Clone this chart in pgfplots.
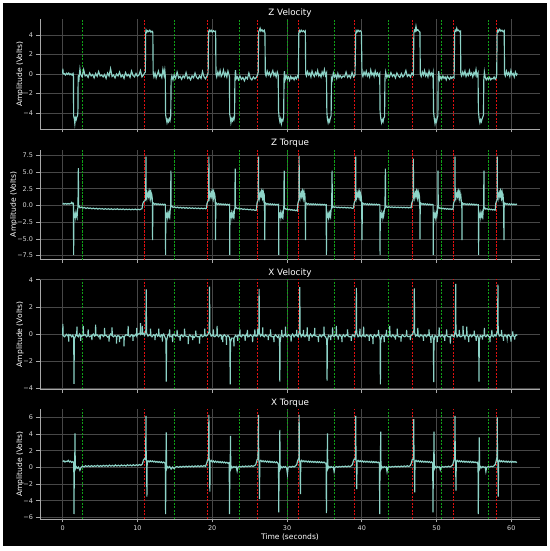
\documentclass[border=0pt]{standalone}
\usepackage{fontspec}
\setmainfont{DejaVu Sans}
\usepackage{pgfplots}
\pgfplotsset{compat=1.18}
\definecolor{sig}{HTML}{8DD3C7}
\definecolor{gridc}{HTML}{474747}
\definecolor{spine}{HTML}{A8A8A8}
\definecolor{evr}{HTML}{E01010}
\definecolor{evg}{HTML}{10A018}
\definecolor{tlab}{HTML}{D8D8D8}
\pgfplotsset{
  panel/.style={
    scale only axis, width=500bp, height=109.5bp, anchor=south west,
    xmin=-3.04, xmax=63.84,
    axis x line*=bottom, axis y line*=left,
    axis line style={-, spine, line width=0.7bp},
    xtick={0,10,20,30,40,50,60},
    tick style={spine, line width=0.6bp}, tick align=outside, major tick length=3.5bp,
    grid=major, grid style={gridc, line width=0.6bp},
    ticklabel style={font=\fontsize{6.5}{7}\selectfont, color=tlab},
    ylabel={Amplitude (Volts)}, ylabel shift=-7bp,
    ylabel style={font=\fontsize{7.6}{8}\selectfont, color=white},
    xlabel style={font=\fontsize{7.6}{8}\selectfont, color=white},
    title style={font=\fontsize{8.8}{10}\selectfont, color=white, at={(0.5,1)}, anchor=base, yshift=-2bp},
    clip=true,
  },
  ev/.style={dash pattern=on 2.2bp off 1.3bp, line width=1bp},
  sigline/.style={sig, line width=1.15bp, mark=none},
}
\newcommand{\evlines}{%
  \pgfplotsinvokeforeach{2.645,14.951,23.645,30.065,36.352,43.575,50.664,56.951}{\addplot[evg,ev] coordinates {(##1,-100) (##1,100)};}%
  \pgfplotsinvokeforeach{10.938,19.365,26.053,31.537,39.027,46.786,52.27,58.022}{\addplot[evr,ev] coordinates {(##1,-100) (##1,100)};}%
}
\begin{document}
\begin{tikzpicture}
\fill[white] (0bp,0bp) rectangle (550bp,551bp);
\fill[black] (3bp,5bp) rectangle (547bp,548bp);

% ---------------- Z Velocity ----------------
\begin{axis}[panel, at={(40bp,422bp)}, ymin=-5.65, ymax=5.6,
  ytick={-4,-2,0,2,4}, yticklabels={−4,−2,0,2,4}, xticklabels={}, title={Z Velocity}]
\evlines
\addplot[sigline] coordinates {
(0,0.05) (0.02,0.55) (0.05,0.0) (0.2,0.05) (0.35,-0.1) (0.5,0.08) (0.65,-0.05) (0.8,0.1) (0.95,-0.08) (1.1,0.02) (1.25,-0.12) (1.38,0.05)
(1.43,-0.1) (1.46,-4.3) (1.55,-4.6) (1.62,-5.1) (1.7,-4.5) (1.8,-4.7) (1.9,-4.4) (1.98,-4.3) (2.03,-3.9) (2.06,-0.5) (2.1,-0.1) (2.15,-0.8) (2.22,-0.1) (2.3,0.5)
(2.4,-0.05) (2.6,-0.3) (2.8,0.45) (3.0,-0.2) (3.2,-0.1) (3.4,-0.35) (3.6,0.1) (3.8,-0.2) (4.0,-0.05) (4.2,-0.4) (4.4,0.05) (4.6,-0.25) (4.8,0.25) (5.0,-0.2) (5.2,-0.1) (5.4,-0.3) (5.6,-0.05) (5.8,-0.45) (6.0,0.1) (6.2,-0.2) (6.4,0.55) (6.6,-0.25) (6.8,-0.1) (7.0,-0.4) (7.2,0.0) (7.4,-0.2) (7.6,0.2) (7.8,-0.3) (8.0,-0.1) (8.2,-0.45) (8.4,0.15) (8.6,-0.2) (8.8,-0.05) (9.0,-0.35) (9.2,0.3) (9.4,-0.15) (9.6,-0.3) (9.8,0.05) (10.0,-0.25) (10.2,-0.1) (10.4,0.35) (10.6,-0.3) (10.8,-0.1) (10.95,0.1)
(11.05,0.2) (11.09,4.2) (11.15,4.5) (11.25,4.3) (11.35,4.45) (11.5,4.35) (11.65,4.5) (11.8,4.3) (11.95,4.4) (12.05,4.3) (12.1,0.1)
(12.2,-0.3) (12.35,0.1) (12.5,-0.4) (12.65,-0.05) (12.8,0.3) (12.95,-0.2) (13.1,-0.05) (13.25,-0.35) (13.4,0.5) (13.55,-0.1) (13.65,0.4)
(13.72,-0.2) (13.76,-4.2) (13.85,-4.6) (13.95,-5.0) (14.05,-4.7) (14.15,-4.9) (14.25,-4.6) (14.35,-4.8) (14.45,-4.3) (14.5,-0.6)
(14.6,-0.2) (14.75,-0.6) (14.9,-0.1) (15.1,-0.45) (15.3,0.2) (15.5,-0.4) (15.7,-0.25) (15.9,-0.55) (16.1,-0.2) (16.3,-0.4) (16.5,0.15) (16.7,-0.45) (16.9,-0.3) (17.1,-0.6) (17.3,-0.2) (17.5,-0.4) (17.7,0.1) (17.9,-0.35) (18.1,-0.5) (18.3,-0.2) (18.5,-0.45) (18.7,0.25) (18.9,-0.3) (19.1,-0.5) (19.3,-0.2)
(19.45,0.1) (19.5,4.3) (19.6,4.5) (19.7,4.35) (19.85,4.5) (20.0,4.3) (20.15,4.45) (20.3,4.35) (20.45,4.4) (20.5,0.0)
(20.6,-0.3) (20.75,0.2) (20.9,-0.15) (21.05,0.35) (21.2,-0.25) (21.35,-0.05) (21.5,0.4) (21.65,-0.2) (21.8,0.1) (21.95,-0.3) (22.1,0.3) (22.25,-0.1)
(22.3,-0.3) (22.33,-4.1) (22.42,-4.5) (22.5,-5.0) (22.6,-4.6) (22.7,-4.8) (22.8,-4.5) (22.9,-4.7) (22.98,-4.4) (23.03,-0.7)
(23.1,0.4) (23.2,-0.5) (23.35,-0.3) (23.5,-0.6) (23.7,-0.2) (23.9,-0.55) (24.1,-0.35) (24.3,-0.7) (24.5,-0.3) (24.7,-0.5) (24.9,0.1) (25.1,-0.45) (25.3,-0.6) (25.5,-0.3) (25.7,-0.5) (25.9,-0.35) (26.05,-0.1)
(26.15,0.2) (26.2,4.3) (26.3,4.5) (26.4,4.7) (26.5,4.4) (26.65,4.55) (26.8,4.35) (26.95,4.5) (27.05,4.2) (27.1,0.0)
(27.2,-0.2) (27.35,0.3) (27.5,-0.1) (27.65,0.15) (27.8,-0.25) (27.95,0.05) (28.1,0.35) (28.25,-0.15) (28.4,0.1) (28.55,-0.3) (28.7,0.2) (28.82,-0.1)
(28.87,-3.8) (28.95,-4.5) (29.05,-4.9) (29.15,-4.6) (29.25,-5.1) (29.35,-4.7) (29.45,-4.8) (29.55,-4.4) (29.6,-0.5)
(29.65,0.3) (29.75,-0.6) (29.9,-0.2) (30.05,-0.5) (30.2,-0.3) (30.35,-0.65) (30.5,-0.25) (30.65,-0.5) (30.8,-0.35) (30.95,-0.6) (31.1,-0.3) (31.25,-0.5) (31.4,-0.2) (31.52,-0.35)
(31.58,4.2) (31.65,4.45) (31.75,4.3) (31.9,4.5) (32.05,4.35) (32.2,4.45) (32.35,4.3) (32.45,4.4) (32.5,0.0)
(32.6,-0.2) (32.75,0.25) (32.9,-0.1) (33.05,0.1) (33.2,-0.3) (33.35,0.3) (33.5,-0.05) (33.65,-0.25) (33.8,0.15) (33.95,-0.1) (34.1,0.35) (34.25,-0.2) (34.4,0.0) (34.55,-0.3) (34.7,0.2) (34.85,-0.1) (35.0,0.45) (35.15,-0.15) (35.28,0.1)
(35.33,-3.9) (35.4,-4.6) (35.5,-5.0) (35.6,-4.7) (35.7,-4.9) (35.8,-4.5) (35.9,-4.3) (35.95,-0.4)
(36.05,-0.6) (36.2,0.1) (36.35,-0.3) (36.5,-0.1) (36.65,-0.45) (36.8,0.05) (36.95,-0.35) (37.1,-0.15) (37.3,-0.4) (37.5,-0.2) (37.7,-0.3) (37.9,0.2) (38.1,-0.35) (38.3,-0.15) (38.5,-0.4) (38.7,0.15) (38.9,-0.3) (39.1,-0.1)
(39.18,4.1) (39.25,4.45) (39.35,4.3) (39.5,4.5) (39.65,4.35) (39.8,4.45) (39.95,4.3) (40.03,0.0)
(40.15,-0.25) (40.3,0.2) (40.45,-0.1) (40.6,0.3) (40.75,-0.2) (40.9,0.05) (41.05,-0.3) (41.2,0.4) (41.35,-0.1) (41.5,0.1) (41.65,-0.25) (41.8,0.3) (41.95,-0.15) (42.1,0.1) (42.25,-0.2) (42.4,0.05)
(42.45,-3.9) (42.55,-4.6) (42.65,-5.0) (42.75,-4.7) (42.85,-4.9) (42.95,-4.5) (43.05,-4.4) (43.1,-0.5)
(43.2,0.2) (43.35,-0.35) (43.5,-0.1) (43.7,-0.3) (43.9,0.15) (44.1,-0.25) (44.3,-0.05) (44.5,-0.4) (44.7,0.1) (44.9,-0.2) (45.1,-0.35) (45.3,0.05) (45.5,-0.3) (45.7,-0.1) (45.9,0.35) (46.1,-0.25) (46.3,-0.05) (46.5,-0.3) (46.7,0.1) (46.9,-0.1)
(46.97,4.2) (47.05,4.5) (47.15,4.4) (47.25,4.9) (47.35,4.45) (47.5,4.55) (47.65,4.4) (47.78,4.3) (47.83,0.0)
(47.95,-0.25) (48.1,0.2) (48.25,-0.1) (48.4,0.35) (48.55,-0.2) (48.7,0.05) (48.85,-0.3) (49.0,0.3) (49.15,-0.15) (49.3,0.1) (49.45,-0.2) (49.55,0.15)
(49.6,-3.9) (49.7,-4.6) (49.8,-5.1) (49.9,-4.7) (50.0,-4.9) (50.1,-4.5) (50.18,-4.3) (50.22,-0.4)
(50.3,0.3) (50.4,-0.6) (50.55,-0.3) (50.7,-0.5) (50.85,-0.2) (51.0,-0.45) (51.15,-0.3) (51.3,-0.6) (51.45,-0.25) (51.6,-0.4) (51.75,-0.55) (51.9,-0.3) (52.05,-0.45) (52.2,-0.3) (52.35,-0.4)
(52.42,4.3) (52.5,4.5) (52.6,4.4) (52.7,4.7) (52.8,4.45) (52.95,4.5) (53.1,4.35) (53.2,4.4) (53.25,0.0)
(53.35,-0.2) (53.5,0.2) (53.65,-0.1) (53.8,0.3) (53.95,-0.25) (54.1,0.05) (54.25,-0.15) (54.4,0.35) (54.55,-0.1) (54.7,0.1) (54.85,-0.3) (55.0,0.15) (55.15,-0.1) (55.28,0.45) (55.4,-0.2) (55.55,0.1)
(55.6,-3.8) (55.7,-4.6) (55.8,-5.0) (55.9,-4.7) (56.0,-4.9) (56.1,-4.6) (56.2,-4.4) (56.28,-4.2) (56.32,-0.6)
(56.4,0.2) (56.5,-0.3) (56.65,-0.6) (56.8,-0.4) (56.95,-0.55) (57.1,-0.35) (57.25,-0.6) (57.4,-0.45) (57.55,-0.5) (57.7,-0.3) (57.85,-0.55) (57.98,-0.4)
(58.05,0.0) (58.1,4.2) (58.2,4.5) (58.3,4.35) (58.45,4.6) (58.6,4.4) (58.75,4.5) (58.9,4.35) (59.05,4.45) (59.1,0.0)
(59.2,-0.2) (59.35,0.3) (59.5,-0.1) (59.65,0.15) (59.8,-0.25) (59.95,0.35) (60.1,-0.1) (60.25,0.05) (60.4,-0.3) (60.55,0.2) (60.7,-0.1) (60.8,0.05)
};
\end{axis}

% ---------------- Z Torque ----------------
\begin{axis}[panel, at={(40bp,291.8bp)}, ymin=-8.05, ymax=8.35,
  ytick={-7.5,-5,-2.5,0,2.5,5,7.5}, yticklabels={−7.5,−5.0,−2.5,0.0,2.5,5.0,7.5}, xticklabels={}, title={Z Torque}]
\evlines
\addplot[sigline] coordinates {
(0,0.15) (0.1,0.3) (0.25,0.2) (0.4,0.3) (0.55,0.18) (0.7,0.3) (0.85,0.2) (1.0,0.3) (1.1,0.25) (1.2,0.45) (1.3,0.28) (1.38,0.35)
(1.43,0.25) (1.46,-7.4) (1.48,-1.0) (1.53,-1.8) (1.58,-1.2) (1.63,-1.9) (1.68,-1.3) (1.73,-1.7) (1.78,-1.1) (1.83,-1.8) (1.88,-1.3) (1.93,-1.6) (1.98,-0.6) (2.04,-0.3) (2.09,5.6) (2.12,-0.2)
(2.2,-0.1) (2.3,-0.35) (2.5,-0.25) (2.7,-0.4) (2.9,-0.3) (3.1,-0.45) (3.3,-0.35) (3.5,-0.45) (3.7,-0.38) (3.9,-0.5) (4.1,-0.4) (4.3,-0.52) (4.5,-0.42) (4.7,-0.55) (4.9,-0.45) (5.1,-0.55) (5.3,-0.47) (5.5,-0.58) (5.7,-0.48) (5.9,-0.58) (6.1,-0.5) (6.3,-0.6) (6.5,-0.5) (6.7,-0.62) (6.9,-0.52) (7.1,-0.6) (7.3,-0.5) (7.5,-0.62) (7.7,-0.54) (7.9,-0.62) (8.1,-0.52) (8.3,-0.64) (8.5,-0.55) (8.7,-0.63) (8.9,-0.55) (9.1,-0.65) (9.3,-0.56) (9.5,-0.64) (9.7,-0.55) (9.9,-0.65) (10.1,-0.57) (10.3,-0.65) (10.45,-0.55)
(10.6,-0.5) (10.72,0.3) (10.85,0.6) (11.0,0.7) (11.1,0.9) (11.13,7.3) (11.16,1.2) (11.21,1.8) (11.26,1.3) (11.31,1.9) (11.36,1.2) (11.41,1.7) (11.46,1.4) (11.51,1.8) (11.56,1.2) (11.61,1.8) (11.66,1.3) (11.71,1.7) (11.76,1.2) (11.81,1.8) (11.86,1.4) (11.91,1.6) (11.96,1.3) (11.99,0.4) (12.02,-5.2) (12.05,0.2)
(12.15,0.35) (12.3,0.15) (12.45,0.28) (12.6,0.12) (12.75,0.25) (12.9,0.1) (13.05,0.22) (13.2,0.1) (13.35,0.2) (13.5,0.08) (13.62,0.18)
(13.73,0.15) (13.76,-7.4) (13.78,-1.0) (13.83,-1.8) (13.88,-1.2) (13.93,-1.9) (13.98,-1.3) (14.03,-1.7) (14.08,-1.1) (14.13,-1.8) (14.18,-1.3) (14.23,-1.6) (14.28,-1.2) (14.33,-1.5) (14.38,-0.6) (14.43,-0.3) (14.47,5.2) (14.5,-0.2)
(14.6,-0.1) (14.75,-0.3) (14.95,-0.2) (15.15,-0.35) (15.35,-0.25) (15.55,-0.38) (15.75,-0.28) (15.95,-0.4) (16.15,-0.3) (16.35,-0.42) (16.55,-0.32) (16.75,-0.44) (16.95,-0.34) (17.15,-0.45) (17.35,-0.36) (17.55,-0.46) (17.75,-0.38) (17.95,-0.48) (18.15,-0.38) (18.35,-0.5) (18.55,-0.4) (18.75,-0.5) (18.95,-0.42) (19.1,-0.5)
(19.2,-0.45) (19.3,0.3) (19.4,0.6) (19.48,0.7) (19.52,0.9) (19.55,7.3) (19.58,1.2) (19.63,1.8) (19.68,1.3) (19.73,1.9) (19.78,1.2) (19.83,1.7) (19.88,1.4) (19.93,1.8) (19.98,1.2) (20.03,1.8) (20.08,1.3) (20.13,1.7) (20.18,1.2) (20.23,1.8) (20.28,1.4) (20.33,1.6) (20.38,1.3) (20.41,0.4) (20.44,-5.2) (20.47,0.2)
(20.55,0.35) (20.7,0.15) (20.85,0.28) (21.0,0.12) (21.15,0.25) (21.3,0.1) (21.45,0.22) (21.6,0.08) (21.75,0.2) (21.9,0.05) (22.05,0.18) (22.2,0.05)
(22.32,0.15) (22.35,-7.4) (22.37,-1.0) (22.42,-1.8) (22.47,-1.2) (22.52,-1.9) (22.57,-1.3) (22.62,-1.7) (22.67,-1.1) (22.72,-1.8) (22.77,-1.3) (22.82,-1.6) (22.87,-1.2) (22.92,-1.5) (22.97,-0.6) (23.02,-0.4) (23.07,5.5) (23.1,-0.4)
(23.2,-0.3) (23.35,-0.5) (23.5,-0.42) (23.7,-0.55) (23.9,-0.48) (24.1,-0.6) (24.3,-0.52) (24.5,-0.62) (24.7,-0.55) (24.9,-0.66) (25.1,-0.58) (25.3,-0.7) (25.5,-0.62) (25.7,-0.74)
(25.9,-0.7) (25.98,0.3) (26.05,0.6) (26.12,0.7) (26.15,0.9) (26.18,7.3) (26.21,1.2) (26.26,1.8) (26.31,1.3) (26.36,1.9) (26.41,1.2) (26.46,1.7) (26.51,1.4) (26.56,1.8) (26.61,1.2) (26.66,1.8) (26.71,1.3) (26.76,1.7) (26.81,1.2) (26.86,1.8) (26.91,1.4) (26.95,1.5) (26.99,0.4) (27.03,-5.2) (27.06,0.2)
(27.15,0.35) (27.3,0.15) (27.45,0.28) (27.6,0.12) (27.75,0.25) (27.9,0.1) (28.05,0.22) (28.2,0.08) (28.35,0.2) (28.5,0.06) (28.65,0.18) (28.78,0.08)
(28.87,0.15) (28.9,-7.4) (28.92,-1.0) (28.97,-1.8) (29.02,-1.2) (29.07,-1.9) (29.12,-1.3) (29.17,-1.7) (29.22,-1.1) (29.27,-1.8) (29.32,-1.3) (29.37,-1.6) (29.42,-1.2) (29.47,-1.5) (29.52,-0.7) (29.57,-0.5) (29.62,5.2) (29.65,-0.5)
(29.75,-0.45) (29.9,-0.6) (30.05,-0.52) (30.2,-0.65) (30.35,-0.58) (30.5,-0.7) (30.65,-0.62) (30.8,-0.74) (30.95,-0.66) (31.1,-0.78) (31.25,-0.7)
(31.38,-0.8) (31.45,0.3) (31.52,0.6) (31.57,0.7) (31.6,0.9) (31.62,7.4) (31.65,1.2) (31.7,1.8) (31.75,1.3) (31.8,1.9) (31.85,1.2) (31.9,1.7) (31.95,1.4) (32.0,1.8) (32.05,1.2) (32.1,1.8) (32.15,1.3) (32.2,1.7) (32.25,1.2) (32.3,1.8) (32.35,1.4) (32.39,1.5) (32.43,0.4) (32.47,-5.2) (32.5,0.2)
(32.6,0.35) (32.75,0.15) (32.9,0.28) (33.05,0.12) (33.2,0.25) (33.35,0.1) (33.5,0.24) (33.65,0.1) (33.8,0.22) (33.95,0.08) (34.1,0.2) (34.25,0.08) (34.4,0.2) (34.55,0.06) (34.7,0.18) (34.85,0.06) (35.0,0.16) (35.12,0.05)
(35.24,0.1) (35.27,-7.4) (35.29,-1.0) (35.34,-1.8) (35.39,-1.2) (35.44,-1.9) (35.49,-1.3) (35.54,-1.7) (35.59,-1.1) (35.64,-1.8) (35.69,-1.3) (35.74,-1.6) (35.79,-1.2) (35.84,-1.5) (35.9,-0.6) (35.97,-0.3) (36.03,5.2) (36.06,-0.3)
(36.15,-0.15) (36.3,-0.3) (36.5,-0.22) (36.7,-0.33) (36.9,-0.25) (37.1,-0.35) (37.3,-0.27) (37.5,-0.36) (37.7,-0.28) (37.9,-0.38) (38.1,-0.3) (38.3,-0.4) (38.5,-0.32) (38.7,-0.42)
(38.9,-0.4) (38.97,0.3) (39.05,0.6) (39.13,0.7) (39.16,0.9) (39.19,7.3) (39.22,1.2) (39.27,1.8) (39.32,1.3) (39.37,1.9) (39.42,1.2) (39.47,1.7) (39.52,1.4) (39.57,1.8) (39.62,1.2) (39.67,1.8) (39.72,1.3) (39.77,1.7) (39.82,1.2) (39.87,1.6) (39.93,1.3) (39.98,0.4) (40.04,-5.2) (40.07,0.2)
(40.15,0.35) (40.3,0.15) (40.45,0.28) (40.6,0.12) (40.75,0.25) (40.9,0.1) (41.05,0.24) (41.2,0.1) (41.35,0.22) (41.5,0.08) (41.65,0.2) (41.8,0.08) (41.95,0.2) (42.1,0.06) (42.25,0.16)
(42.42,0.1) (42.45,-7.4) (42.47,-1.0) (42.52,-1.8) (42.57,-1.2) (42.62,-1.9) (42.67,-1.3) (42.72,-1.7) (42.77,-1.1) (42.82,-1.8) (42.87,-1.3) (42.92,-1.6) (42.97,-1.2) (43.03,-0.6) (43.1,-0.3) (43.16,5.5) (43.19,-0.3)
(43.3,-0.15) (43.45,-0.28) (43.65,-0.2) (43.85,-0.3) (44.05,-0.22) (44.25,-0.32) (44.45,-0.24) (44.65,-0.33) (44.85,-0.25) (45.05,-0.34) (45.25,-0.26) (45.45,-0.35) (45.65,-0.27) (45.85,-0.36) (46.05,-0.28) (46.25,-0.37) (46.45,-0.3)
(46.6,-0.35) (46.68,0.3) (46.76,0.6) (46.84,0.7) (46.87,0.9) (46.9,7.0) (46.93,1.2) (46.98,1.8) (47.03,1.3) (47.08,1.9) (47.13,1.2) (47.18,1.7) (47.23,1.4) (47.28,1.8) (47.33,1.2) (47.38,1.8) (47.43,1.3) (47.48,1.7) (47.53,1.2) (47.58,1.8) (47.63,1.4) (47.68,1.6) (47.72,1.3) (47.76,0.4) (47.79,-5.1) (47.82,0.2)
(47.9,0.35) (48.05,0.15) (48.2,0.28) (48.35,0.12) (48.5,0.25) (48.65,0.1) (48.8,0.22) (48.95,0.08) (49.1,0.2) (49.25,0.06) (49.4,0.16)
(49.54,0.1) (49.57,-7.4) (49.59,-1.0) (49.64,-1.8) (49.69,-1.2) (49.74,-1.9) (49.79,-1.3) (49.84,-1.7) (49.89,-1.1) (49.94,-1.8) (49.99,-1.3) (50.04,-1.6) (50.09,-1.2) (50.13,-0.6) (50.17,-0.4) (50.2,5.2) (50.23,-0.4)
(50.32,-0.3) (50.45,-0.45) (50.6,-0.38) (50.75,-0.5) (50.9,-0.42) (51.05,-0.54) (51.2,-0.46) (51.35,-0.56) (51.5,-0.48) (51.65,-0.58) (51.8,-0.5) (51.95,-0.6) (52.08,-0.52)
(52.2,-0.6) (52.28,0.3) (52.36,0.6) (52.42,0.7) (52.45,0.9) (52.47,7.3) (52.5,1.2) (52.55,1.8) (52.6,1.3) (52.65,1.9) (52.7,1.2) (52.75,1.7) (52.8,1.4) (52.85,1.8) (52.9,1.2) (52.95,1.8) (53.0,1.3) (53.05,1.7) (53.1,1.2) (53.15,1.8) (53.2,1.4) (53.25,1.5) (53.32,0.5) (53.38,0.3) (53.4,-5.2) (53.43,0.2)
(53.5,0.35) (53.65,0.15) (53.8,0.28) (53.95,0.12) (54.1,0.25) (54.25,0.1) (54.4,0.24) (54.55,0.1) (54.7,0.22) (54.85,0.08) (55.0,0.2) (55.15,0.06) (55.3,0.18) (55.45,0.06)
(55.6,0.1) (55.63,-7.4) (55.65,-1.0) (55.7,-1.8) (55.75,-1.2) (55.8,-1.9) (55.85,-1.3) (55.9,-1.7) (55.95,-1.1) (56.0,-1.8) (56.05,-1.3) (56.1,-1.6) (56.15,-1.2) (56.2,-1.5) (56.25,-0.6) (56.3,-0.4) (56.34,5.2) (56.37,-0.5)
(56.45,-0.35) (56.6,-0.55) (56.75,-0.48) (56.9,-0.6) (57.05,-0.52) (57.2,-0.64) (57.35,-0.56) (57.5,-0.68) (57.65,-0.6) (57.78,-0.7)
(57.85,-0.7) (57.92,0.3) (58.0,0.6) (58.07,0.7) (58.1,0.9) (58.12,7.3) (58.15,1.2) (58.2,1.8) (58.25,1.3) (58.3,1.9) (58.35,1.2) (58.4,1.7) (58.45,1.4) (58.5,1.8) (58.55,1.2) (58.6,1.8) (58.65,1.3) (58.7,1.7) (58.75,1.2) (58.8,1.8) (58.85,1.4) (58.9,1.5) (58.96,0.4) (59.02,-5.2) (59.05,0.2)
(59.15,0.35) (59.3,0.15) (59.45,0.28) (59.6,0.12) (59.75,0.25) (59.9,0.1) (60.05,0.24) (60.2,0.1) (60.35,0.22) (60.5,0.1) (60.65,0.2) (60.75,0.12)
};
\end{axis}

% ---------------- X Velocity ----------------
\begin{axis}[panel, at={(40bp,161.7bp)}, ymin=-4.07, ymax=4.0,
  ytick={-4,-2,0,2,4}, yticklabels={−4,−2,0,2,4}, xticklabels={}, title={X Velocity}]
\evlines
\addplot[sigline] coordinates {
(0.0,-0.1) (0.02,0.75) (0.05,-0.1) (0.25,-0.2) (0.5,-0.02) (0.72,-0.15)
(0.77,-0.1) (0.8,-0.55) (0.83,-0.1) (1.0,-0.05) (1.2,-0.2) (1.35,-0.08)
(1.47,-0.3) (1.51,-3.68) (1.55,-0.4)
(1.75,-0.05) (1.87,-0.1) (1.9,0.55) (1.93,-0.1) (2.1,-0.2) (2.25,0.0) (2.37,-0.1) (2.4,-0.5) (2.43,-0.1) (2.55,-0.15) (2.72,-0.1) (2.75,0.6) (2.78,-0.1) (3.0,-0.05) (3.2,-0.2) (3.37,-0.1) (3.4,0.35) (3.43,-0.1) (3.6,-0.2) (3.87,-0.1) (3.9,-0.45) (3.93,-0.1) (4.1,0.0) (4.25,-0.15) (4.37,-0.1) (4.4,0.7) (4.43,-0.1) (4.6,-0.05) (4.8,-0.2) (4.97,-0.1) (5.0,-0.4) (5.03,-0.1) (5.25,-0.05) (5.45,-0.18) (5.57,-0.1) (5.6,0.45) (5.63,-0.1) (5.8,-0.08) (6.0,-0.22) (6.17,-0.15) (6.2,-0.55) (6.23,-0.15) (6.4,0.0) (6.57,-0.1) (6.6,0.5) (6.63,-0.1) (6.8,-0.2) (7.0,-0.1) (7.17,-0.2) (7.2,-0.7) (7.23,-0.2) (7.4,-0.1) (7.57,-0.2) (7.6,-0.6) (7.63,-0.2) (7.8,-0.3) (8.0,-0.15) (8.17,-0.2) (8.2,-0.9) (8.23,-0.2) (8.45,-0.05) (8.72,-0.1) (8.75,0.6) (8.78,-0.1) (9.0,-0.2) (9.2,-0.05) (9.37,-0.1) (9.4,-0.5) (9.43,-0.1) (9.6,-0.15) (9.8,0.0) (9.87,-0.1) (9.9,0.45) (9.93,-0.1) (10.1,0.0) (10.3,0.05) (10.37,0.0) (10.4,0.8) (10.43,0.0) (10.55,0.0) (10.62,0.0) (10.65,0.6) (10.68,0.0) (10.8,0.05) (10.95,-0.1)
(11.13,0.3) (11.17,3.3) (11.21,0.1)
(11.4,-0.15) (11.6,-0.05) (11.72,-0.1) (11.75,0.4) (11.78,-0.1) (11.95,-0.2) (12.15,-0.05) (12.32,-0.1) (12.35,-0.45) (12.38,-0.1) (12.55,0.0) (12.7,-0.15) (12.82,-0.1) (12.85,0.4) (12.88,-0.1) (13.05,-0.2) (13.2,-0.05) (13.3,-0.1) (13.33,-0.55) (13.36,-0.1) (13.5,0.0) (13.65,-0.2)
(13.81,-0.4) (13.85,-3.5) (13.89,-0.5)
(14.05,-0.1) (14.2,0.0) (14.27,-0.1) (14.3,0.35) (14.33,-0.1) (14.5,-0.2) (14.67,-0.1) (14.7,-0.6) (14.73,-0.1) (14.9,0.0) (15.1,-0.15) (15.27,-0.1) (15.3,0.3) (15.33,-0.1) (15.5,-0.2) (15.67,-0.15) (15.7,-0.5) (15.73,-0.15) (15.9,-0.05) (16.1,-0.2) (16.27,-0.1) (16.3,0.4) (16.33,-0.1) (16.5,-0.15) (16.77,-0.2) (16.8,-0.75) (16.83,-0.2) (17.0,-0.05) (17.2,-0.2) (17.37,-0.15) (17.4,-0.45) (17.43,-0.15) (17.6,-0.25) (17.77,-0.1) (17.8,0.25) (17.83,-0.1) (18.0,-0.2) (18.27,-0.2) (18.3,-0.7) (18.33,-0.2) (18.5,-0.05) (18.7,-0.2) (18.97,-0.1) (19.0,0.4) (19.03,-0.1) (19.2,-0.15) (19.4,-0.05)
(19.6,0.2) (19.64,3.5) (19.68,0.1)
(19.85,-0.15) (20.05,-0.05) (20.12,-0.1) (20.15,0.35) (20.18,-0.1) (20.35,-0.2) (20.6,-0.05) (20.62,-0.05) (20.65,0.6) (20.68,-0.1) (20.85,-0.2) (21.05,-0.05) (21.22,-0.15) (21.25,-0.4) (21.28,-0.15) (21.37,-0.2) (21.4,-0.6) (21.43,-0.2) (21.6,-0.05) (21.87,-0.2) (21.9,-0.8) (21.93,-0.2) (22.1,-0.1) (22.3,-0.25)
(22.36,-0.5) (22.4,-3.7) (22.44,-0.6)
(22.6,-0.3) (22.87,-0.3) (22.9,-0.9) (22.93,-0.3) (23.1,-0.1) (23.3,-0.2) (23.37,-0.15) (23.4,-0.5) (23.43,-0.15) (23.6,-0.05) (23.67,-0.1) (23.7,0.35) (23.73,-0.1) (23.9,-0.2) (24.1,-0.05) (24.37,-0.15) (24.4,-0.5) (24.43,-0.15) (24.6,0.0) (24.67,-0.1) (24.7,0.3) (24.73,-0.1) (24.9,-0.2) (25.1,-0.05) (25.37,-0.2) (25.4,-0.6) (25.43,-0.2) (25.6,-0.05) (25.67,-0.1) (25.7,0.35) (25.73,-0.1) (25.9,-0.15) (26.07,0.0) (26.1,0.4) (26.13,0.0)
(26.23,0.2) (26.27,3.33) (26.31,0.1)
(26.45,-0.15) (26.6,-0.05) (26.72,-0.1) (26.75,0.5) (26.78,-0.1) (26.95,-0.2) (27.15,-0.05) (27.3,-0.15) (27.47,-0.15) (27.5,-0.45) (27.53,-0.15) (27.7,-0.05) (27.77,-0.1) (27.8,0.35) (27.83,-0.1) (28.0,-0.2) (28.22,-0.2) (28.25,-0.6) (28.28,-0.2) (28.45,-0.05) (28.6,-0.15) (28.75,-0.25) (28.9,-0.1)
(29.0,-0.5) (29.04,-3.5) (29.08,-0.6)
(29.2,-0.1) (29.27,-0.1) (29.3,0.3) (29.33,-0.1) (29.5,-0.2) (29.65,-0.05) (29.77,-0.1) (29.8,0.55) (29.83,-0.1) (30.0,-0.2) (30.2,-0.05) (30.4,-0.15) (30.52,-0.15) (30.55,-0.55) (30.58,-0.15) (30.75,0.0) (30.95,-0.2) (31.15,-0.05) (31.27,-0.1) (31.3,0.3) (31.33,-0.1) (31.5,-0.2)
(31.67,0.2) (31.71,3.45) (31.75,0.1)
(31.9,-0.2) (32.05,-0.05) (32.17,-0.1) (32.2,0.3) (32.23,-0.1) (32.4,-0.2) (32.6,-0.05) (32.67,-0.1) (32.7,0.5) (32.73,-0.1) (32.92,-0.15) (32.95,-0.5) (32.98,-0.15) (33.15,0.0) (33.35,-0.2) (33.55,-0.05) (33.67,-0.1) (33.7,0.45) (33.73,-0.1) (33.9,-0.15) (34.17,-0.2) (34.2,-0.6) (34.23,-0.2) (34.4,-0.05) (34.6,-0.2) (34.8,-0.05) (34.92,-0.1) (34.95,0.55) (34.98,-0.1) (35.15,-0.2)
(35.32,-0.4) (35.36,-3.43) (35.4,-0.5)
(35.55,-0.1) (35.75,-0.2) (35.82,-0.15) (35.85,-0.45) (35.88,-0.15) (36.07,-0.1) (36.1,0.5) (36.13,-0.1) (36.3,-0.2) (36.45,-0.05) (36.57,-0.1) (36.6,0.6) (36.63,-0.1) (36.82,-0.2) (36.85,-0.4) (36.88,-0.2) (37.05,-0.05) (37.2,-0.15) (37.32,-0.2) (37.35,-0.6) (37.38,-0.2) (37.55,-0.05) (37.75,-0.2) (37.95,-0.05) (38.07,-0.1) (38.1,0.35) (38.13,-0.1) (38.3,-0.2) (38.57,-0.2) (38.6,-0.5) (38.63,-0.2) (38.8,-0.05) (39.05,-0.2)
(39.24,0.3) (39.28,3.4) (39.32,0.1)
(39.5,-0.2) (39.72,-0.1) (39.75,0.4) (39.78,-0.1) (39.95,-0.2) (40.15,-0.05) (40.22,-0.1) (40.25,0.55) (40.28,-0.1) (40.45,-0.2) (40.65,-0.05) (40.85,-0.15) (40.97,-0.15) (41.0,-0.5) (41.03,-0.15) (41.2,-0.05) (41.35,-0.2) (41.47,-0.2) (41.5,-0.75) (41.53,-0.2) (41.7,-0.05) (41.9,-0.2) (42.1,-0.05) (42.22,-0.1) (42.25,0.3) (42.28,-0.1) (42.4,-0.2)
(42.45,-0.4) (42.49,-3.7) (42.53,-0.5)
(42.7,-0.1) (42.97,-0.2) (43.0,-0.6) (43.03,-0.2) (43.2,-0.05) (43.27,-0.1) (43.3,0.3) (43.33,-0.1) (43.5,-0.2) (43.72,-0.1) (43.75,0.6) (43.78,-0.1) (43.95,-0.2) (44.15,-0.05) (44.35,-0.2) (44.47,-0.15) (44.5,-0.4) (44.53,-0.15) (44.72,-0.1) (44.75,0.4) (44.78,-0.1) (44.95,-0.2) (45.22,-0.2) (45.25,-0.55) (45.28,-0.2) (45.45,-0.05) (45.6,-0.15) (45.75,-0.2) (45.97,-0.1) (46.0,0.3) (46.03,-0.1) (46.2,-0.2) (46.47,-0.15) (46.5,-0.45) (46.53,-0.15) (46.8,0.0)
(46.99,0.3) (47.03,3.36) (47.07,0.1)
(47.2,-0.15) (47.4,-0.05) (47.47,-0.1) (47.5,0.45) (47.53,-0.1) (47.7,-0.2) (47.9,-0.05) (48.1,-0.15) (48.22,-0.15) (48.25,-0.5) (48.28,-0.15) (48.45,-0.05) (48.65,-0.2) (48.85,-0.05) (48.97,-0.1) (49.0,0.35) (49.03,-0.1) (49.22,-0.2) (49.25,-0.65) (49.28,-0.2) (49.45,-0.1)
(49.58,-0.4) (49.62,-3.55) (49.66,-0.5)
(49.8,-0.1) (50.0,-0.2) (50.07,-0.2) (50.1,-0.6) (50.13,-0.2) (50.32,-0.1) (50.35,0.5) (50.38,-0.1) (50.55,-0.2) (50.75,-0.05) (50.95,-0.2) (51.07,-0.15) (51.1,-0.5) (51.13,-0.15) (51.32,-0.1) (51.35,0.35) (51.38,-0.1) (51.55,-0.2) (51.82,-0.2) (51.85,-0.7) (51.88,-0.2) (52.05,-0.05) (52.2,-0.15) (52.35,-0.2)
(52.52,0.3) (52.56,3.7) (52.6,0.1)
(52.75,-0.2) (52.95,-0.05) (53.02,-0.1) (53.05,0.3) (53.08,-0.1) (53.25,-0.2) (53.52,-0.1) (53.55,0.6) (53.58,-0.1) (53.77,-0.15) (53.8,-0.4) (53.83,-0.15) (54.02,-0.1) (54.05,0.55) (54.08,-0.1) (54.27,-0.2) (54.3,-0.6) (54.33,-0.2) (54.5,-0.05) (54.7,-0.2) (54.9,-0.05) (55.02,-0.1) (55.05,0.25) (55.08,-0.1) (55.27,-0.2) (55.3,-0.5) (55.33,-0.2) (55.5,-0.1)
(55.64,-0.4) (55.68,-3.5) (55.72,-0.5)
(55.85,-0.1) (56.05,-0.2) (56.12,-0.15) (56.15,-0.4) (56.18,-0.15) (56.37,-0.1) (56.4,0.45) (56.43,-0.1) (56.6,-0.2) (56.8,-0.05) (57.0,-0.2) (57.12,-0.2) (57.15,-0.6) (57.18,-0.2) (57.37,-0.1) (57.4,0.3) (57.43,-0.1) (57.6,-0.2) (57.8,-0.05) (57.95,-0.15)
(58.17,0.3) (58.21,3.65) (58.25,0.1)
(58.4,-0.15) (58.6,-0.05) (58.67,-0.1) (58.7,0.3) (58.73,-0.1) (58.92,-0.2) (58.95,-0.5) (58.98,-0.2) (59.15,-0.05) (59.35,-0.2) (59.42,-0.15) (59.45,-0.3) (59.48,-0.15) (59.65,-0.05) (59.85,-0.2) (59.92,-0.2) (59.95,-0.55) (59.98,-0.2) (60.17,-0.1) (60.2,0.2) (60.23,-0.1) (60.42,-0.2) (60.45,-0.4) (60.48,-0.2) (60.65,-0.05) (60.8,-0.1)
};
\end{axis}

% ---------------- X Torque ----------------
\begin{axis}[panel, at={(40bp,32bp)}, ymin=-6.2, ymax=6.96,
  ytick={-6,-4,-2,0,2,4,6}, yticklabels={−6,−4,−2,0,2,4,6},
  xticklabels={0,10,20,30,40,50,60}, xlabel={Time (seconds)}, xlabel shift=-4bp, title={X Torque}]
\evlines
\addplot[sigline] coordinates {
(0,0.7) (0.15,0.8) (0.3,0.65) (0.45,0.75) (0.6,0.7) (0.75,0.85) (0.9,0.65) (1.05,0.75) (1.2,0.6) (1.35,0.7) (1.45,0.6)
(1.48,0.3) (1.51,-5.6) (1.55,0.2) (1.6,-0.1) (1.64,4.1) (1.68,-0.2) (1.8,0.1) (1.95,-0.1) (2.1,0.05) (2.3,-0.35) (2.45,0.0)
(2.65,0.15) (2.85,0.05) (3.05,0.2) (3.25,0.1) (3.45,0.2) (3.65,0.08) (3.85,0.22) (4.05,0.1) (4.25,0.2) (4.45,0.12) (4.65,0.25) (4.85,0.1) (5.05,0.22) (5.25,0.12) (5.45,0.25) (5.65,0.14) (5.85,0.25) (6.05,0.12) (6.25,0.28) (6.45,0.15) (6.65,0.26) (6.85,0.14) (7.05,0.3) (7.25,0.16) (7.45,0.27) (7.65,0.15) (7.85,0.3) (8.05,0.18) (8.25,0.28) (8.45,0.16) (8.65,0.32) (8.85,0.2) (9.05,0.3) (9.25,0.18) (9.45,0.33) (9.65,0.2) (9.85,0.32) (10.05,0.22) (10.25,0.35) (10.45,0.25)
(10.65,0.4) (10.8,0.9) (10.95,1.05) (11.1,0.95) (11.13,6.2) (11.17,0.9) (11.22,0.6) (11.26,-3.5) (11.3,0.7) (11.4,0.8)
(11.55,0.65) (11.7,0.8) (11.85,0.68) (12.0,0.78) (12.15,0.65) (12.3,0.75) (12.45,0.62) (12.6,0.72) (12.75,0.6) (12.9,0.7) (13.05,0.58) (13.2,0.68) (13.35,0.55) (13.5,0.65) (13.65,0.55)
(13.72,0.3) (13.76,-5.6) (13.8,0.2) (13.85,4.2) (13.89,-0.2) (14.0,0.1) (14.15,-0.05) (14.3,0.1) (14.5,-0.2) (14.7,0.05) (14.9,-0.15) (15.1,0.05)
(15.3,0.1) (15.5,0.0) (15.7,0.12) (15.9,0.02) (16.1,0.14) (16.3,0.04) (16.5,0.15) (16.7,0.05) (16.9,0.16) (17.1,0.06) (17.3,0.18) (17.5,0.06) (17.7,0.18) (17.9,0.08) (18.1,0.2) (18.3,0.08) (18.5,0.2) (18.7,0.1) (18.9,0.22) (19.1,0.12)
(19.25,0.5) (19.38,0.9) (19.5,0.95) (19.55,6.3) (19.59,0.9) (19.64,0.5) (19.68,-2.9) (19.72,0.7) (19.85,0.85)
(20.0,0.65) (20.15,0.78) (20.3,0.62) (20.45,0.75) (20.6,0.6) (20.75,0.72) (20.9,0.58) (21.05,0.7) (21.2,0.56) (21.35,0.68) (21.5,0.55) (21.65,0.65) (21.8,0.52) (21.95,0.62) (22.1,0.5) (22.22,0.55)
(22.27,0.3) (22.31,-5.6) (22.35,0.2) (22.4,-0.1) (22.44,3.8) (22.48,-0.2) (22.6,0.1) (22.75,-0.05) (22.9,0.1) (23.05,0.0) (23.2,0.1) (23.33,-0.45) (23.45,0.05)
(23.65,0.12) (23.85,0.04) (24.05,0.15) (24.25,0.06) (24.45,0.17) (24.65,0.08) (24.85,0.18) (25.05,0.1) (25.25,0.2) (25.45,0.12) (25.65,0.22) (25.8,0.3)
(25.9,0.6) (26.0,0.95) (26.12,1.0) (26.18,6.3) (26.22,0.9) (26.28,0.5) (26.32,-3.8) (26.36,0.7) (26.5,0.85)
(26.65,0.68) (26.8,0.8) (26.95,0.66) (27.1,0.78) (27.25,0.64) (27.4,0.76) (27.55,0.62) (27.7,0.74) (27.85,0.6) (28.0,0.7) (28.15,0.58) (28.3,0.68) (28.45,0.56) (28.6,0.66) (28.75,0.55)
(28.86,0.3) (28.9,-5.4) (28.94,0.2) (29.0,-0.1) (29.04,4.5) (29.08,-0.2) (29.2,0.1) (29.35,-0.05) (29.5,0.1) (29.65,0.0) (29.8,0.1) (29.95,-0.1) (30.06,-0.8) (30.15,0.0)
(30.35,0.1) (30.55,0.02) (30.75,0.14) (30.95,0.05) (31.15,0.2) (31.3,0.35)
(31.42,0.8) (31.52,1.0) (31.58,0.95) (31.62,6.3) (31.66,0.9) (31.74,0.5) (31.8,-3.2) (31.84,0.7) (31.95,0.85)
(32.1,0.68) (32.25,0.8) (32.4,0.66) (32.55,0.78) (32.7,0.64) (32.85,0.76) (33.0,0.62) (33.15,0.74) (33.3,0.62) (33.45,0.72) (33.6,0.6) (33.75,0.72) (33.9,0.58) (34.05,0.7) (34.2,0.58) (34.35,0.68) (34.5,0.56) (34.65,0.66) (34.8,0.55) (34.95,0.64) (35.1,0.52) (35.2,0.5)
(35.23,0.3) (35.27,-5.5) (35.31,0.2) (35.37,-0.1) (35.41,4.1) (35.45,-0.2) (35.6,0.1) (35.75,-0.05) (35.9,0.1) (36.05,0.0) (36.2,0.05) (36.3,-0.5) (36.4,0.0)
(36.6,0.1) (36.8,0.02) (37.0,0.12) (37.2,0.04) (37.4,0.14) (37.6,0.06) (37.8,0.16) (38.0,0.06) (38.2,0.17) (38.4,0.08) (38.6,0.2) (38.75,0.35)
(38.88,0.8) (39.0,1.0) (39.15,0.95) (39.19,6.2) (39.23,0.9) (39.29,0.5) (39.33,-2.6) (39.37,0.7) (39.5,0.85)
(39.65,0.68) (39.8,0.8) (39.95,0.66) (40.1,0.78) (40.25,0.64) (40.4,0.76) (40.55,0.62) (40.7,0.74) (40.85,0.62) (41.0,0.72) (41.15,0.6) (41.3,0.72) (41.45,0.58) (41.6,0.7) (41.75,0.58) (41.9,0.68) (42.05,0.56) (42.2,0.64) (42.32,0.55)
(42.36,0.3) (42.4,-5.6) (42.44,0.2) (42.49,-0.1) (42.53,4.3) (42.57,-0.2) (42.7,0.1) (42.85,-0.05) (43.0,0.1) (43.15,0.0) (43.28,0.05) (43.38,-0.5) (43.48,0.0)
(43.68,0.1) (43.88,0.02) (44.08,0.12) (44.28,0.04) (44.48,0.14) (44.68,0.05) (44.88,0.15) (45.08,0.06) (45.28,0.16) (45.48,0.07) (45.68,0.18) (45.88,0.08) (46.08,0.2) (46.28,0.1) (46.48,0.22)
(46.62,0.5) (46.75,0.95) (46.9,1.0) (46.95,5.8) (46.99,0.9) (47.04,0.5) (47.08,-3.0) (47.12,0.7) (47.25,0.85)
(47.4,0.68) (47.55,0.8) (47.7,0.66) (47.85,0.78) (48.0,0.64) (48.15,0.76) (48.3,0.62) (48.45,0.74) (48.6,0.62) (48.75,0.72) (48.9,0.6) (49.05,0.7) (49.2,0.58) (49.35,0.66) (49.45,0.55)
(49.49,0.3) (49.53,-5.4) (49.57,0.2) (49.62,-0.1) (49.66,4.3) (49.7,-0.2) (49.85,0.1) (50.0,-0.05) (50.15,0.1) (50.3,0.0) (50.4,0.05) (50.5,-0.3) (50.6,0.0)
(50.8,0.1) (51.0,0.02) (51.2,0.12) (51.4,0.04) (51.6,0.15) (51.8,0.06) (52.0,0.18) (52.15,0.3)
(52.25,0.6) (52.35,0.95) (52.43,1.0) (52.47,6.2) (52.51,0.9) (52.56,0.5) (52.6,-2.8) (52.64,0.7) (52.75,0.85)
(52.9,0.68) (53.05,0.8) (53.2,0.66) (53.35,0.78) (53.5,0.64) (53.65,0.76) (53.8,0.62) (53.95,0.74) (54.1,0.62) (54.25,0.72) (54.4,0.6) (54.55,0.72) (54.7,0.58) (54.85,0.7) (55.0,0.58) (55.15,0.66) (55.3,0.56) (55.45,0.62)
(55.55,0.3) (55.59,-5.6) (55.63,0.2) (55.68,-0.1) (55.72,3.6) (55.76,-0.2) (55.9,0.1) (56.05,-0.05) (56.2,0.1) (56.35,0.0) (56.5,0.05) (56.6,-0.5) (56.7,0.0)
(56.9,0.1) (57.1,0.04) (57.3,0.14) (57.5,0.08) (57.7,0.2) (57.85,0.35)
(57.95,0.7) (58.03,1.0) (58.09,0.95) (58.12,6.0) (58.16,0.9) (58.22,0.5) (58.26,-3.5) (58.3,0.7) (58.4,0.85)
(58.55,0.68) (58.7,0.8) (58.85,0.66) (59.0,0.78) (59.15,0.64) (59.3,0.76) (59.45,0.62) (59.6,0.74) (59.75,0.62) (59.9,0.72) (60.05,0.6) (60.2,0.72) (60.35,0.62) (60.5,0.7) (60.65,0.6) (60.75,0.66)
};
\end{axis}
\end{tikzpicture}
\end{document}
